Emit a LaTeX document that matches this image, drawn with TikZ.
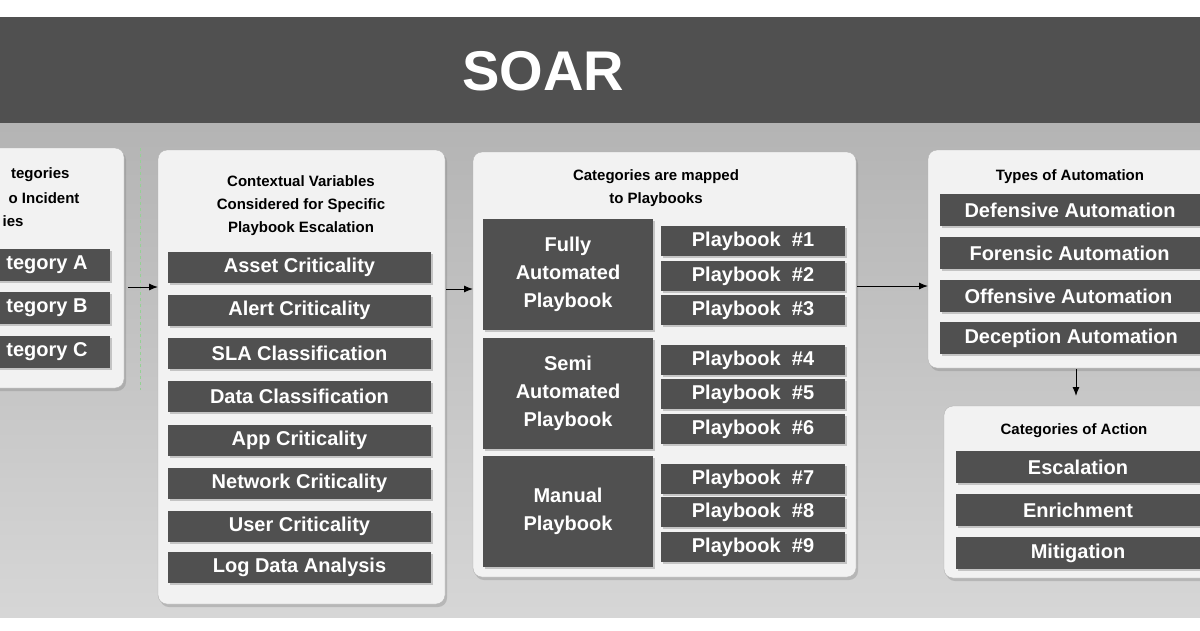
\documentclass[tikz,border=0pt]{standalone}
\usepackage{fontspec}
\setmainfont{Liberation Sans}
\usetikzlibrary{shadows,arrows.meta}
\definecolor{dk}{HTML}{505050}
\definecolor{bg}{HTML}{CFCFCF}
\definecolor{panel}{HTML}{F2F2F2}
\tikzset{
 panelbox/.style={draw=gray!60,fill=panel,rounded corners=9pt,drop shadow={opacity=0.35,shadow xshift=2pt,shadow yshift=-3pt}},
 item/.style={fill=dk,drop shadow={opacity=0.4,shadow xshift=2pt,shadow yshift=-2pt}},
 itxt/.style={text=white,font=\bfseries\fontsize{20}{22}\selectfont},
 ttl/.style={font=\bfseries\fontsize{15}{23}\selectfont,align=center},
 arr/.style={-{Latex[length=9pt,width=7pt]},line width=1pt}
}
\begin{document}
\begin{tikzpicture}[x=1pt,y=-1pt]
\useasboundingbox (0,0) rectangle (1200,630);
\clip (0,0) rectangle (1200,630);
\fill[white] (0,0) rectangle (1200,630);
\shade[top color=bg!85!black!95,bottom color=bg!85] (0,123) rectangle (1200,617);
\fill[dk] (0,17) rectangle (1200,123);
\node[text=white,font=\bfseries\fontsize{56}{60}\selectfont] (soar) at (543,71) {SOAR};
% left panel
\draw[panelbox] (-20,148) rectangle (124,388);
\coordinate (p1) at (124,287);
\node[anchor=east,font=\bfseries\fontsize{15}{18}\selectfont] (l1) at (73,175) {tegories};
\node[anchor=east,font=\bfseries\fontsize{15}{18}\selectfont] (l2) at (83,198) {o Incident};
\node[anchor=east,font=\bfseries\fontsize{15}{18}\selectfont] (l3) at (27,221) {ies};
\foreach \y/\t [count=\i] in {265/tegory A,308/tegory B,352/tegory C}{
 \fill[item] (-10,\y-16) rectangle (110,\y+16);
 \node[itxt,anchor=east] (c\i) at (91,\y) {\t};
}
\draw[green!40!gray!60,dashed] (140,148) -- (140,390);
% panel 2
\draw[panelbox] (158,150) rectangle (445,604);
\node[ttl] (t2) at (301,206) {Contextual Variables\\Considered for Specific\\Playbook Escalation};
\foreach \y/\t [count=\i] in {267/Asset Criticality,310/Alert Criticality,353/SLA Classification,396/Data Classification,440/App Criticality,483/Network Criticality,526/User Criticality,567/Log Data Analysis}{
 \node[item,itxt,minimum width=263pt,minimum height=31pt,inner sep=0pt] (v\i) at (299.5,\y) {\t};
}
\coordinate (p2a) at (158,287);
\draw[arr] (128,287) -- (p2a);
% panel 3
\draw[panelbox] (473,152) rectangle (856,577);
\node[ttl] (t3) at (656,188) {Categories are mapped\\to Playbooks};
\foreach \y/\t [count=\i] in {274.5/Fully\\Automated\\Playbook,393/Semi\\Automated\\Playbook,511.5/Manual\\Playbook}{
 \node[item,itxt,align=center,minimum width=170pt,minimum height=111pt,inner sep=0pt,font=\bfseries\fontsize{20}{28}\selectfont] (g\i) at (568,\y) {\t};
}
\foreach \y [count=\i] in {241,276,310,360,394,429,479,512,547}{
 \node[item,itxt,minimum width=184pt,minimum height=30pt,inner sep=0pt] (pb\i) at (753,\y) {Playbook~ \#\i};
}
\draw[arr] (446,289) -- (473,289);
% panel 4
\draw[panelbox] (928,150) rectangle (1215,368);
\node[ttl] (t4) at (1070,177) {Types of Automation};
\foreach \y/\t [count=\i] in {210/Defensive Automation,253/Forensic Automation,296/Offensive Automation,338/Deception Automation}{
 \fill[item] (940,\y-16) rectangle (1230,\y+16);
 \node[itxt,anchor=west] (a\i) at (\ifnum\i=2 966\else 961\fi,\y) {\t};
}
\draw[arr] (857,286) -- (928,286);
% panel 5
\draw[panelbox] (944,406) rectangle (1215,578);
\node[ttl] (t5) at (1074,431) {Categories of Action};
\foreach \y/\t [count=\i] in {467/Escalation,510/Enrichment,553/Mitigation}{
 \fill[item] (956,\y-16) rectangle (1230,\y+16);
 \node[itxt] (e\i) at (1078,\y) {\t};
}
\draw[arr] (1076,369) -- (1076,396);
\end{tikzpicture}
\end{document}
